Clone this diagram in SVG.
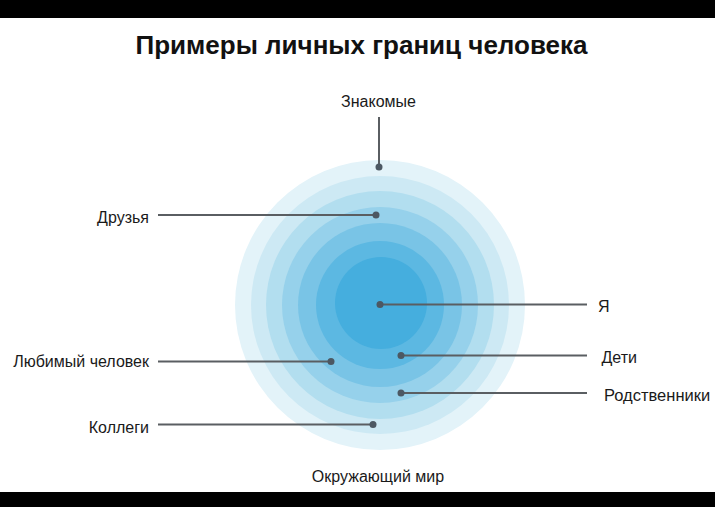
<svg xmlns="http://www.w3.org/2000/svg" width="715" height="507" viewBox="0 0 715 507">
<style>
.t{font-family:"Liberation Sans",Arial,sans-serif;font-size:16px;fill:#1a1a1a}
.title{font-family:"Liberation Sans",Arial,sans-serif;font-size:26px;font-weight:bold;fill:#111}
.ln{stroke:#5a5e62;stroke-width:2;fill:none}
.dot{fill:#4c5863}
</style>
<rect width="715" height="507" fill="#ffffff"/>
<rect x="0" y="0" width="715" height="18" fill="#000"/>
<rect x="0" y="492" width="715" height="15" fill="#000"/>
<text class="title" x="361.5" y="54" text-anchor="middle">Примеры личных границ человека</text>
<g id="rings">
<circle cx="380" cy="305" r="145" fill="#e3f3f9"/>
<circle cx="380" cy="305" r="129" fill="#cde9f4"/>
<circle cx="380" cy="305" r="114" fill="#b2deef"/>
<circle cx="380" cy="305" r="98" fill="#96d1eb"/>
<circle cx="380" cy="305" r="82" fill="#79c4e6"/>
<circle cx="380" cy="305" r="64" fill="#5cb8e2"/>
<circle cx="381" cy="303" r="46" fill="#45aede"/>
</g>
<g id="connectors">
<line class="ln" x1="379" y1="117" x2="379" y2="167"/>
<line class="ln" x1="158" y1="215" x2="376" y2="215"/>
<line class="ln" x1="380" y1="304.5" x2="587" y2="304.5"/>
<line class="ln" x1="158" y1="361.5" x2="331" y2="361.5"/>
<line class="ln" x1="401" y1="355.5" x2="587" y2="355.5"/>
<line class="ln" x1="401" y1="393" x2="587" y2="393"/>
<line class="ln" x1="158" y1="424.5" x2="373" y2="424.5"/>
</g>
<g id="znakomye"><circle class="dot" cx="379" cy="167" r="3.5"/><text class="t" x="378.5" y="106.5" text-anchor="middle">Знакомые</text></g>
<g id="druzya"><circle class="dot" cx="376" cy="215" r="3.5"/><text class="t" x="149" y="223" text-anchor="end">Друзья</text></g>
<g id="ya"><circle class="dot" cx="380" cy="304.5" r="3.5"/><text class="t" x="598" y="312">Я</text></g>
<g id="lyubimy"><circle class="dot" cx="331" cy="361.5" r="3.5"/><text class="t" x="149" y="367" text-anchor="end">Любимый человек</text></g>
<g id="deti"><circle class="dot" cx="401" cy="355.5" r="3.5"/><text class="t" x="601.5" y="363">Дети</text></g>
<g id="rodstvenniki"><circle class="dot" cx="401" cy="393" r="3.5"/><text class="t" x="604" y="400.5" style="font-size:16.5px">Родственники</text></g>
<g id="kollegi"><circle class="dot" cx="373" cy="424.5" r="3.5"/><text class="t" x="149" y="432.5" text-anchor="end">Коллеги</text></g>
<g id="mir"><text class="t" x="378" y="482" text-anchor="middle">Окружающий мир</text></g>
</svg>
